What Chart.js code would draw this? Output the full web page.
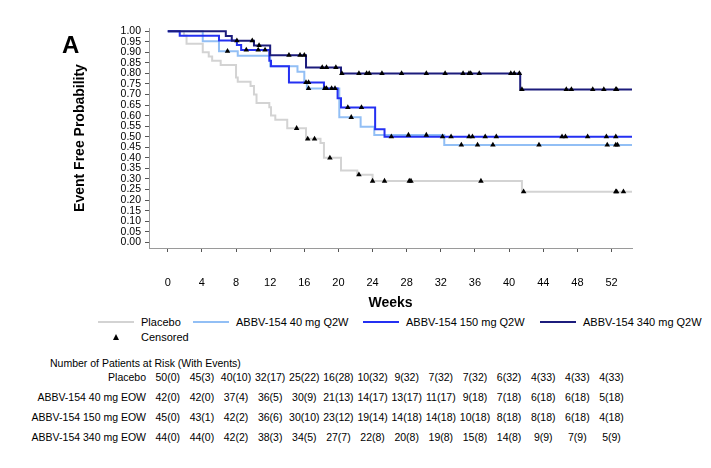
<!DOCTYPE html>
<html>
<head>
<meta charset="utf-8">
<script src="https://cdn.jsdelivr.net/npm/chart.js@4.4.1/dist/chart.umd.min.js"></script>
<style>
  body { margin: 0; background: #fff; }
  #wrap { position: relative; width: 711px; height: 468px; background: #fff;
          font-family: 'Liberation Sans', Arial, sans-serif; color: #000; }
  #kmChart { position: absolute; left: 0; top: 0; }
  .abs { position: absolute; white-space: nowrap; }
  .panel { left: 62px; top: 33px; font-size: 24px; line-height: 24px; font-weight: bold; }
  .lg-line { position: absolute; height: 2px; width: 36px; }
  .lg-text { position: absolute; font-size: 11px; line-height: 14px; }
  .tri { position: absolute; width: 0; height: 0; border-left: 3.5px solid transparent;
         border-right: 3.5px solid transparent; border-bottom: 6px solid #000; }
  .risk { font-size: 10.5px; line-height: 14px; }
</style>
</head>
<body>
<div id="wrap">
  <canvas id="kmChart" width="711" height="312"></canvas>
  <div class="abs panel">A</div>
  <div id="legend"></div>
  <div id="risk"></div>
</div>
<script>
// Kaplan-Meier steps (week, event free probability after that week)
var placeboWeeks = [0, 1.9, 2.2, 4.1, 4.8, 5.2, 6.2, 8.0, 8.2, 9.7, 10.1, 10.4, 11.9, 12.1, 12.6, 14.0, 16.2, 17.9, 18.3, 20.3, 22.2, 24.0, 41.5];
var placeboSurv  = [1.00, 0.98, 0.94, 0.90, 0.88, 0.86, 0.84, 0.78, 0.76, 0.74, 0.70, 0.66, 0.64, 0.60, 0.58, 0.54, 0.49, 0.47, 0.40, 0.34, 0.32, 0.29, 0.24];
var placeboCensored = [15.1, 16.4, 17.2, 19.0, 22.4, 24.0, 25.4, 28.3, 28.5, 36.7, 41.7, 52.5, 52.6, 53.4];

var dose40Weeks = [0, 4.1, 6.0, 8.2, 12.0, 15.2, 16.0, 16.3, 20.1, 22.6, 24.2, 32.4];
var dose40Surv  = [1.00, 0.952, 0.905, 0.883, 0.834, 0.808, 0.757, 0.729, 0.592, 0.547, 0.508, 0.461];
var dose40Censored = [7.0, 16.5, 21.5, 28.2, 30.3, 34.4, 36.3, 38.1, 43.5, 51.5, 52.5, 52.7];

var dose150Weeks = [0, 1.4, 6.0, 8.1, 8.6, 11.9, 12.1, 14.2, 18.3, 19.9, 20.3, 24.3, 25.4];
var dose150Surv  = [1.00, 0.978, 0.956, 0.934, 0.911, 0.86, 0.834, 0.757, 0.729, 0.682, 0.639, 0.535, 0.50];
var dose150Censored = [9.2, 10.6, 11.4, 16.2, 16.5, 18.4, 18.6, 19.2, 19.6, 21.1, 22.7, 26.2, 32.2, 33.2, 35.3, 35.7, 37.2, 38.5, 46.2, 46.6, 49.2, 51.4, 52.5];

var dose340Weeks = [0, 6.8, 7.5, 10.1, 12.0, 16.2, 20.3, 41.3];
var dose340Surv  = [1.00, 0.977, 0.955, 0.932, 0.886, 0.828, 0.80, 0.724];
var dose340Censored = [8.1, 9.9, 10.7, 14.2, 15.5, 16.0, 18.1, 18.6, 19.7, 20.4, 22.4, 23.3, 23.6, 25.1, 27.4, 30.3, 32.5, 34.6, 35.3, 35.5, 36.5, 40.2, 40.6, 41.2, 41.5, 46.7, 47.3, 49.8, 51.1, 52.5, 52.6];

var lastFollowUp = 54.4;

// patients at risk table
var riskWeeks = [0, 4, 8, 12, 16, 20, 24, 28, 32, 36, 40, 44, 48, 52];
var placeboAtRisk = [50, 45, 40, 32, 25, 16, 10, 9, 7, 7, 6, 4, 4, 4];
var placeboEvents = [0, 3, 10, 17, 22, 28, 32, 32, 32, 32, 32, 33, 33, 33];
var dose40AtRisk = [42, 42, 37, 36, 30, 21, 14, 13, 11, 9, 7, 6, 6, 5];
var dose40Events = [0, 0, 4, 5, 9, 13, 17, 17, 17, 18, 18, 18, 18, 18];
var dose150AtRisk = [45, 43, 42, 36, 30, 23, 19, 14, 14, 10, 8, 8, 6, 4];
var dose150Events = [0, 1, 2, 6, 10, 12, 14, 18, 18, 18, 18, 18, 18, 18];
var dose340AtRisk = [44, 44, 42, 38, 34, 27, 22, 20, 19, 15, 14, 9, 7, 5];
var dose340Events = [0, 0, 2, 3, 5, 7, 8, 8, 8, 8, 8, 9, 9, 9];

var groups = [
  { legend: 'Placebo', row: 'Placebo', color: '#d3d3d3',
    weeks: placeboWeeks, surv: placeboSurv, cens: placeboCensored, atRisk: placeboAtRisk, events: placeboEvents },
  { legend: 'ABBV-154 40 mg Q2W', row: 'ABBV-154 40 mg EOW', color: '#92bff5',
    weeks: dose40Weeks, surv: dose40Surv, cens: dose40Censored, atRisk: dose40AtRisk, events: dose40Events },
  { legend: 'ABBV-154 150 mg Q2W', row: 'ABBV-154 150 mg EOW', color: '#2430f2',
    weeks: dose150Weeks, surv: dose150Surv, cens: dose150Censored, atRisk: dose150AtRisk, events: dose150Events },
  { legend: 'ABBV-154 340 mg Q2W', row: 'ABBV-154 340 mg EOW', color: '#1c1c7c',
    weeks: dose340Weeks, surv: dose340Surv, cens: dose340Censored, atRisk: dose340AtRisk, events: dose340Events }
];

function survivalAt(weeks, surv, t) {
  var s = surv[0];
  for (var i = 0; i < weeks.length; i++) {
    if (weeks[i] <= t) s = surv[i];
  }
  return s;
}

Chart.defaults.font.family = "'Liberation Sans', Arial, sans-serif";
Chart.defaults.color = '#000';

// censored marks first so they sit on top, then curves (340 on top of the others)
var markerSets = [];
var curveSets = [];
groups.slice().reverse().forEach(function (g) {
  markerSets.push({
    data: g.cens.map(function (t) { return { x: t, y: survivalAt(g.weeks, g.surv, t) }; }),
    pointStyle: 'triangle',
    pointRadius: 3.2,
    backgroundColor: '#000',
    borderColor: '#000',
    borderWidth: 0,
    showLine: false
  });
  var pts = g.weeks.map(function (t, i) { return { x: t, y: g.surv[i] }; });
  pts.push({ x: lastFollowUp, y: g.surv[g.surv.length - 1] });
  curveSets.push({
    data: pts,
    showLine: true,
    stepped: true,
    borderColor: g.color,
    borderWidth: 2,
    pointRadius: 0
  });
});

var axisGrid = { drawOnChartArea: false, drawTicks: true, tickLength: 4, color: '#555', tickColor: '#555' };
var axisBorder = { display: true, color: '#9a9a9a', width: 1 };

var chart = new Chart(document.getElementById('kmChart').getContext('2d'), {
  type: 'scatter',
  data: { datasets: markerSets.concat(curveSets) },
  options: {
    responsive: false,
    animation: false,
    events: [],
    clip: false,
    layout: { padding: { top: 28, right: 79, left: 0, bottom: 0 } },
    plugins: { legend: { display: false }, tooltip: { enabled: false } },
    scales: {
      x: {
        type: 'linear',
        min: -2.2,
        max: lastFollowUp,
        ticks: { stepSize: 4, includeBounds: false, autoSkip: false, maxRotation: 0, padding: 24,
                 font: { size: 11 } },
        grid: axisGrid,
        border: axisBorder,
        title: { display: true, text: 'Weeks', font: { size: 14, weight: 'bold' }, padding: 0 },
        afterFit: function (scale) { scale.height = 64; }
      },
      y: {
        min: -0.027,
        max: 1.015,
        ticks: { stepSize: 0.05, includeBounds: false, autoSkip: false, padding: 4,
                 font: { size: 10.5 },
                 callback: function (v) { return v.toFixed(2); } },
        grid: axisGrid,
        border: axisBorder,
        title: { display: true, text: 'Event Free Probability', font: { size: 14, weight: 'bold' },
                 padding: { top: 72, bottom: 0 } },
        afterFit: function (scale) { scale.width = 149; }
      }
    }
  }
});

// legend
var legend = document.getElementById('legend');
var legendX = [98, 193, 363, 540];
groups.forEach(function (g, i) {
  var line = document.createElement('div');
  line.className = 'lg-line';
  line.style.left = legendX[i] + 'px';
  line.style.top = '321px';
  line.style.background = g.color;
  legend.appendChild(line);
  var txt = document.createElement('div');
  txt.className = 'lg-text';
  txt.style.left = (legendX[i] + 43) + 'px';
  txt.style.top = '315px';
  txt.textContent = g.legend;
  legend.appendChild(txt);
});
var tri = document.createElement('div');
tri.className = 'tri';
tri.style.left = '113px';
tri.style.top = '334px';
legend.appendChild(tri);
var cens = document.createElement('div');
cens.className = 'lg-text';
cens.style.left = '141px';
cens.style.top = '330px';
cens.textContent = 'Censored';
legend.appendChild(cens);

// at-risk table, columns placed on the x scale
var risk = document.getElementById('risk');
var head = document.createElement('div');
head.className = 'abs risk';
head.style.left = '50px';
head.style.top = '356px';
head.textContent = 'Number of Patients at Risk (With Events)';
risk.appendChild(head);
var xScale = chart.scales.x;
groups.forEach(function (g, r) {
  var top = 370 + r * 20;
  var lab = document.createElement('div');
  lab.className = 'abs risk';
  lab.style.right = (711 - 146) + 'px';
  lab.style.top = top + 'px';
  lab.textContent = g.row;
  risk.appendChild(lab);
  riskWeeks.forEach(function (w, c) {
    var cell = document.createElement('div');
    cell.className = 'abs risk';
    cell.style.left = xScale.getPixelForValue(w) + 'px';
    cell.style.top = top + 'px';
    cell.style.transform = 'translateX(-50%)';
    cell.textContent = g.atRisk[c] + '(' + g.events[c] + ')';
    risk.appendChild(cell);
  });
});
</script>
</body>
</html>
